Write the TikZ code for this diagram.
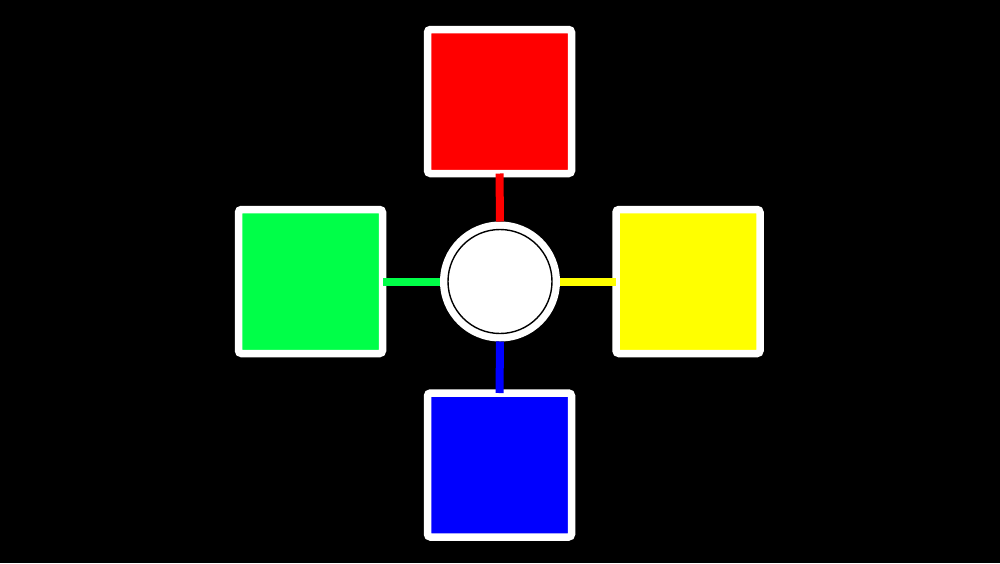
\documentclass[tikz,border=0pt]{standalone}
\definecolor{sqred}{HTML}{FF0000}
\definecolor{sqgreen}{HTML}{00FF48}
\definecolor{sqyellow}{HTML}{FFFF00}
\definecolor{sqblue}{HTML}{0000FF}
\begin{document}
\begin{tikzpicture}[x=1pt,y=-1pt,
  sq/.style={rectangle,draw=white,line width=7.5pt,rounded corners=3pt,minimum size=144pt,inner sep=0pt,outer sep=0pt},
  link/.style={line width=8pt},
  hub/.style={circle,fill=white,minimum size=120pt,inner sep=0pt,outer sep=0pt}]
\fill[black] (0,0) rectangle (1000,563);
\useasboundingbox (0,0) rectangle (1000,563);
\node[sq,fill=sqred] (r) at (499.5,101.5) {};
\node[sq,fill=sqgreen] (g) at (310.5,281.5) {};
\node[sq,fill=sqyellow] (y) at (688,281.5) {};
\node[sq,fill=sqblue] (b) at (499.5,465) {};
\node[hub] (c) at (500,281.5) {};
\node[circle,draw=black,line width=1.4pt,minimum size=104pt,inner sep=0pt] (ci) at (c) {};
\draw[link,sqred] (c.north) -- (r.south);
\draw[link,sqgreen] (c.west) -- (g.east);
\draw[link,sqyellow] (c.east) -- (y.west);
\draw[link,sqblue] (c.south) -- (b.north);
\end{tikzpicture}
\end{document}
